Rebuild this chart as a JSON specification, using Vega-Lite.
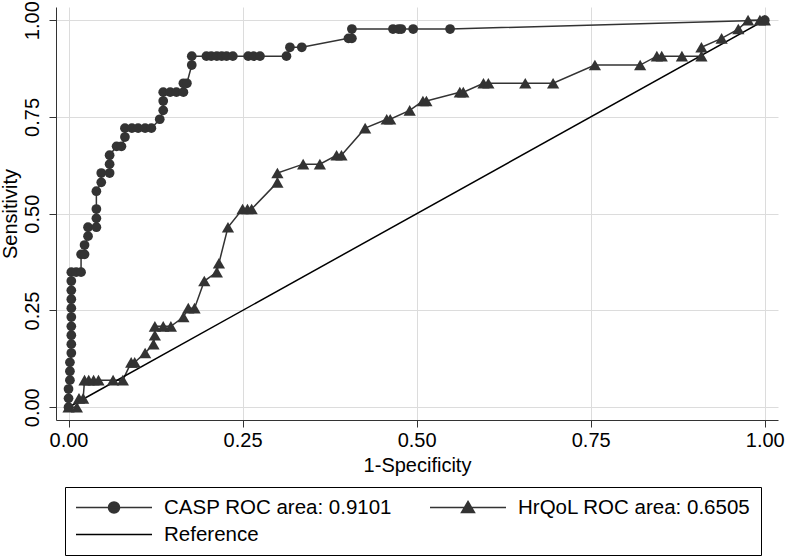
{
  "$schema": "https://vega.github.io/schema/vega-lite/v6.json",
  "width": 722,
  "height": 413,
  "autosize": {"type": "none"},
  "padding": {"left": 56, "top": 7, "right": 7, "bottom": 137},
  "background": "white",
  "config": {"view": {"stroke": null}, "font": "Liberation Sans"},
  "datasets": {
    "roc": [
      {"series": "CASP ROC area: 0.9101", "i": 0, "fpr": 0, "tpr": 0},
      {"series": "CASP ROC area: 0.9101", "i": 1, "fpr": 0, "tpr": 0.023},
      {"series": "CASP ROC area: 0.9101", "i": 2, "fpr": 0, "tpr": 0.047},
      {"series": "CASP ROC area: 0.9101", "i": 3, "fpr": 0.002, "tpr": 0.07},
      {"series": "CASP ROC area: 0.9101", "i": 4, "fpr": 0.002, "tpr": 0.093},
      {"series": "CASP ROC area: 0.9101", "i": 5, "fpr": 0.002, "tpr": 0.116},
      {"series": "CASP ROC area: 0.9101", "i": 6, "fpr": 0.004, "tpr": 0.14},
      {"series": "CASP ROC area: 0.9101", "i": 7, "fpr": 0.004, "tpr": 0.163},
      {"series": "CASP ROC area: 0.9101", "i": 8, "fpr": 0.004, "tpr": 0.186},
      {"series": "CASP ROC area: 0.9101", "i": 9, "fpr": 0.004, "tpr": 0.209},
      {"series": "CASP ROC area: 0.9101", "i": 10, "fpr": 0.004, "tpr": 0.233},
      {"series": "CASP ROC area: 0.9101", "i": 11, "fpr": 0.004, "tpr": 0.256},
      {"series": "CASP ROC area: 0.9101", "i": 12, "fpr": 0.004, "tpr": 0.279},
      {"series": "CASP ROC area: 0.9101", "i": 13, "fpr": 0.004, "tpr": 0.302},
      {"series": "CASP ROC area: 0.9101", "i": 14, "fpr": 0.004, "tpr": 0.326},
      {"series": "CASP ROC area: 0.9101", "i": 15, "fpr": 0.004, "tpr": 0.349},
      {"series": "CASP ROC area: 0.9101", "i": 16, "fpr": 0.011, "tpr": 0.349},
      {"series": "CASP ROC area: 0.9101", "i": 17, "fpr": 0.018, "tpr": 0.349},
      {"series": "CASP ROC area: 0.9101", "i": 18, "fpr": 0.018, "tpr": 0.395},
      {"series": "CASP ROC area: 0.9101", "i": 19, "fpr": 0.023, "tpr": 0.395},
      {"series": "CASP ROC area: 0.9101", "i": 20, "fpr": 0.023, "tpr": 0.419},
      {"series": "CASP ROC area: 0.9101", "i": 21, "fpr": 0.028, "tpr": 0.442},
      {"series": "CASP ROC area: 0.9101", "i": 22, "fpr": 0.028, "tpr": 0.465},
      {"series": "CASP ROC area: 0.9101", "i": 23, "fpr": 0.04, "tpr": 0.465},
      {"series": "CASP ROC area: 0.9101", "i": 24, "fpr": 0.04, "tpr": 0.488},
      {"series": "CASP ROC area: 0.9101", "i": 25, "fpr": 0.04, "tpr": 0.512},
      {"series": "CASP ROC area: 0.9101", "i": 26, "fpr": 0.04, "tpr": 0.558},
      {"series": "CASP ROC area: 0.9101", "i": 27, "fpr": 0.047, "tpr": 0.581},
      {"series": "CASP ROC area: 0.9101", "i": 28, "fpr": 0.047, "tpr": 0.605},
      {"series": "CASP ROC area: 0.9101", "i": 29, "fpr": 0.059, "tpr": 0.605},
      {"series": "CASP ROC area: 0.9101", "i": 30, "fpr": 0.059, "tpr": 0.628},
      {"series": "CASP ROC area: 0.9101", "i": 31, "fpr": 0.059, "tpr": 0.651},
      {"series": "CASP ROC area: 0.9101", "i": 32, "fpr": 0.069, "tpr": 0.674},
      {"series": "CASP ROC area: 0.9101", "i": 33, "fpr": 0.076, "tpr": 0.674},
      {"series": "CASP ROC area: 0.9101", "i": 34, "fpr": 0.081, "tpr": 0.698},
      {"series": "CASP ROC area: 0.9101", "i": 35, "fpr": 0.081, "tpr": 0.721},
      {"series": "CASP ROC area: 0.9101", "i": 36, "fpr": 0.091, "tpr": 0.721},
      {"series": "CASP ROC area: 0.9101", "i": 37, "fpr": 0.1, "tpr": 0.721},
      {"series": "CASP ROC area: 0.9101", "i": 38, "fpr": 0.11, "tpr": 0.721},
      {"series": "CASP ROC area: 0.9101", "i": 39, "fpr": 0.119, "tpr": 0.721},
      {"series": "CASP ROC area: 0.9101", "i": 40, "fpr": 0.131, "tpr": 0.744},
      {"series": "CASP ROC area: 0.9101", "i": 41, "fpr": 0.136, "tpr": 0.767},
      {"series": "CASP ROC area: 0.9101", "i": 42, "fpr": 0.136, "tpr": 0.791},
      {"series": "CASP ROC area: 0.9101", "i": 43, "fpr": 0.136, "tpr": 0.814},
      {"series": "CASP ROC area: 0.9101", "i": 44, "fpr": 0.146, "tpr": 0.814},
      {"series": "CASP ROC area: 0.9101", "i": 45, "fpr": 0.155, "tpr": 0.814},
      {"series": "CASP ROC area: 0.9101", "i": 46, "fpr": 0.165, "tpr": 0.814},
      {"series": "CASP ROC area: 0.9101", "i": 47, "fpr": 0.165, "tpr": 0.837},
      {"series": "CASP ROC area: 0.9101", "i": 48, "fpr": 0.17, "tpr": 0.837},
      {"series": "CASP ROC area: 0.9101", "i": 49, "fpr": 0.177, "tpr": 0.884},
      {"series": "CASP ROC area: 0.9101", "i": 50, "fpr": 0.177, "tpr": 0.907},
      {"series": "CASP ROC area: 0.9101", "i": 51, "fpr": 0.198, "tpr": 0.907},
      {"series": "CASP ROC area: 0.9101", "i": 52, "fpr": 0.205, "tpr": 0.907},
      {"series": "CASP ROC area: 0.9101", "i": 53, "fpr": 0.213, "tpr": 0.907},
      {"series": "CASP ROC area: 0.9101", "i": 54, "fpr": 0.22, "tpr": 0.907},
      {"series": "CASP ROC area: 0.9101", "i": 55, "fpr": 0.227, "tpr": 0.907},
      {"series": "CASP ROC area: 0.9101", "i": 56, "fpr": 0.236, "tpr": 0.907},
      {"series": "CASP ROC area: 0.9101", "i": 57, "fpr": 0.258, "tpr": 0.907},
      {"series": "CASP ROC area: 0.9101", "i": 58, "fpr": 0.266, "tpr": 0.907},
      {"series": "CASP ROC area: 0.9101", "i": 59, "fpr": 0.275, "tpr": 0.907},
      {"series": "CASP ROC area: 0.9101", "i": 60, "fpr": 0.313, "tpr": 0.907},
      {"series": "CASP ROC area: 0.9101", "i": 61, "fpr": 0.318, "tpr": 0.93},
      {"series": "CASP ROC area: 0.9101", "i": 62, "fpr": 0.335, "tpr": 0.93},
      {"series": "CASP ROC area: 0.9101", "i": 63, "fpr": 0.402, "tpr": 0.953},
      {"series": "CASP ROC area: 0.9101", "i": 64, "fpr": 0.407, "tpr": 0.953},
      {"series": "CASP ROC area: 0.9101", "i": 65, "fpr": 0.407, "tpr": 0.977},
      {"series": "CASP ROC area: 0.9101", "i": 66, "fpr": 0.466, "tpr": 0.977},
      {"series": "CASP ROC area: 0.9101", "i": 67, "fpr": 0.474, "tpr": 0.977},
      {"series": "CASP ROC area: 0.9101", "i": 68, "fpr": 0.478, "tpr": 0.977},
      {"series": "CASP ROC area: 0.9101", "i": 69, "fpr": 0.495, "tpr": 0.977},
      {"series": "CASP ROC area: 0.9101", "i": 70, "fpr": 0.548, "tpr": 0.977},
      {"series": "CASP ROC area: 0.9101", "i": 71, "fpr": 1, "tpr": 1},
      {"series": "HrQoL ROC area: 0.6505", "i": 0, "fpr": 0, "tpr": 0},
      {"series": "HrQoL ROC area: 0.6505", "i": 1, "fpr": 0.012, "tpr": 0},
      {"series": "HrQoL ROC area: 0.6505", "i": 2, "fpr": 0.015, "tpr": 0.023},
      {"series": "HrQoL ROC area: 0.6505", "i": 3, "fpr": 0.021, "tpr": 0.023},
      {"series": "HrQoL ROC area: 0.6505", "i": 4, "fpr": 0.023, "tpr": 0.07},
      {"series": "HrQoL ROC area: 0.6505", "i": 5, "fpr": 0.029, "tpr": 0.07},
      {"series": "HrQoL ROC area: 0.6505", "i": 6, "fpr": 0.036, "tpr": 0.07},
      {"series": "HrQoL ROC area: 0.6505", "i": 7, "fpr": 0.043, "tpr": 0.07},
      {"series": "HrQoL ROC area: 0.6505", "i": 8, "fpr": 0.064, "tpr": 0.07},
      {"series": "HrQoL ROC area: 0.6505", "i": 9, "fpr": 0.078, "tpr": 0.07},
      {"series": "HrQoL ROC area: 0.6505", "i": 10, "fpr": 0.09, "tpr": 0.116},
      {"series": "HrQoL ROC area: 0.6505", "i": 11, "fpr": 0.095, "tpr": 0.116},
      {"series": "HrQoL ROC area: 0.6505", "i": 12, "fpr": 0.11, "tpr": 0.14},
      {"series": "HrQoL ROC area: 0.6505", "i": 13, "fpr": 0.122, "tpr": 0.163},
      {"series": "HrQoL ROC area: 0.6505", "i": 14, "fpr": 0.124, "tpr": 0.186},
      {"series": "HrQoL ROC area: 0.6505", "i": 15, "fpr": 0.124, "tpr": 0.209},
      {"series": "HrQoL ROC area: 0.6505", "i": 16, "fpr": 0.136, "tpr": 0.209},
      {"series": "HrQoL ROC area: 0.6505", "i": 17, "fpr": 0.147, "tpr": 0.209},
      {"series": "HrQoL ROC area: 0.6505", "i": 18, "fpr": 0.165, "tpr": 0.233},
      {"series": "HrQoL ROC area: 0.6505", "i": 19, "fpr": 0.172, "tpr": 0.256},
      {"series": "HrQoL ROC area: 0.6505", "i": 20, "fpr": 0.181, "tpr": 0.256},
      {"series": "HrQoL ROC area: 0.6505", "i": 21, "fpr": 0.195, "tpr": 0.326},
      {"series": "HrQoL ROC area: 0.6505", "i": 22, "fpr": 0.213, "tpr": 0.349},
      {"series": "HrQoL ROC area: 0.6505", "i": 23, "fpr": 0.216, "tpr": 0.372},
      {"series": "HrQoL ROC area: 0.6505", "i": 24, "fpr": 0.229, "tpr": 0.465},
      {"series": "HrQoL ROC area: 0.6505", "i": 25, "fpr": 0.25, "tpr": 0.512},
      {"series": "HrQoL ROC area: 0.6505", "i": 26, "fpr": 0.257, "tpr": 0.512},
      {"series": "HrQoL ROC area: 0.6505", "i": 27, "fpr": 0.263, "tpr": 0.512},
      {"series": "HrQoL ROC area: 0.6505", "i": 28, "fpr": 0.3, "tpr": 0.581},
      {"series": "HrQoL ROC area: 0.6505", "i": 29, "fpr": 0.3, "tpr": 0.605},
      {"series": "HrQoL ROC area: 0.6505", "i": 30, "fpr": 0.337, "tpr": 0.628},
      {"series": "HrQoL ROC area: 0.6505", "i": 31, "fpr": 0.361, "tpr": 0.628},
      {"series": "HrQoL ROC area: 0.6505", "i": 32, "fpr": 0.385, "tpr": 0.651},
      {"series": "HrQoL ROC area: 0.6505", "i": 33, "fpr": 0.392, "tpr": 0.651},
      {"series": "HrQoL ROC area: 0.6505", "i": 34, "fpr": 0.426, "tpr": 0.721},
      {"series": "HrQoL ROC area: 0.6505", "i": 35, "fpr": 0.457, "tpr": 0.744},
      {"series": "HrQoL ROC area: 0.6505", "i": 36, "fpr": 0.462, "tpr": 0.744},
      {"series": "HrQoL ROC area: 0.6505", "i": 37, "fpr": 0.49, "tpr": 0.767},
      {"series": "HrQoL ROC area: 0.6505", "i": 38, "fpr": 0.509, "tpr": 0.791},
      {"series": "HrQoL ROC area: 0.6505", "i": 39, "fpr": 0.514, "tpr": 0.791},
      {"series": "HrQoL ROC area: 0.6505", "i": 40, "fpr": 0.562, "tpr": 0.814},
      {"series": "HrQoL ROC area: 0.6505", "i": 41, "fpr": 0.567, "tpr": 0.814},
      {"series": "HrQoL ROC area: 0.6505", "i": 42, "fpr": 0.596, "tpr": 0.837},
      {"series": "HrQoL ROC area: 0.6505", "i": 43, "fpr": 0.603, "tpr": 0.837},
      {"series": "HrQoL ROC area: 0.6505", "i": 44, "fpr": 0.656, "tpr": 0.837},
      {"series": "HrQoL ROC area: 0.6505", "i": 45, "fpr": 0.696, "tpr": 0.837},
      {"series": "HrQoL ROC area: 0.6505", "i": 46, "fpr": 0.756, "tpr": 0.884},
      {"series": "HrQoL ROC area: 0.6505", "i": 47, "fpr": 0.821, "tpr": 0.884},
      {"series": "HrQoL ROC area: 0.6505", "i": 48, "fpr": 0.845, "tpr": 0.907},
      {"series": "HrQoL ROC area: 0.6505", "i": 49, "fpr": 0.852, "tpr": 0.907},
      {"series": "HrQoL ROC area: 0.6505", "i": 50, "fpr": 0.881, "tpr": 0.907},
      {"series": "HrQoL ROC area: 0.6505", "i": 51, "fpr": 0.909, "tpr": 0.907},
      {"series": "HrQoL ROC area: 0.6505", "i": 52, "fpr": 0.909, "tpr": 0.93},
      {"series": "HrQoL ROC area: 0.6505", "i": 53, "fpr": 0.938, "tpr": 0.953},
      {"series": "HrQoL ROC area: 0.6505", "i": 54, "fpr": 0.962, "tpr": 0.977},
      {"series": "HrQoL ROC area: 0.6505", "i": 55, "fpr": 0.976, "tpr": 1},
      {"series": "HrQoL ROC area: 0.6505", "i": 56, "fpr": 0.993, "tpr": 1},
      {"series": "HrQoL ROC area: 0.6505", "i": 57, "fpr": 1, "tpr": 1},
      {"series": "Reference", "i": 0, "fpr": 0, "tpr": 0},
      {"series": "Reference", "i": 1, "fpr": 1, "tpr": 1}
    ]
  },
  "data": {"name": "roc"},
  "layer": [
    {
      "mark": {"type": "line", "strokeWidth": 1.5},
      "encoding": {
        "x": {
          "field": "fpr", "type": "quantitative",
          "scale": {"domain": [-0.018, 1.019], "nice": false, "zero": false},
          "axis": {
            "values": [0, 0.25, 0.5, 0.75, 1], "format": ".2f", "title": "1-Specificity",
            "grid": true, "gridColor": "#dcdcdc", "gridWidth": 1,
            "domainColor": "#333333", "tickColor": "#333333", "tickSize": 7,
            "labelFontSize": 20, "labelColor": "#000000", "labelPadding": 3, "labelBaseline": "top",
            "labelFlush": false, "labelOverlap": false,
            "titleFontSize": 20, "titleFontWeight": "normal", "titleColor": "#000000",
            "titleX": 361, "titleY": 51, "titleBaseline": "alphabetic", "titleAlign": "center"
          }
        },
        "y": {
          "field": "tpr", "type": "quantitative",
          "scale": {"domain": [-0.033, 1.034], "nice": false, "zero": false},
          "axis": {
            "values": [0, 0.25, 0.5, 0.75, 1], "format": ".2f", "title": "Sensitivity",
            "grid": true, "gridColor": "#dcdcdc", "gridWidth": 1,
            "domainColor": "#333333", "tickColor": "#333333", "tickSize": 7,
            "labelFontSize": 20, "labelColor": "#000000", "labelPadding": 11,
            "labelAngle": -90, "labelAlign": "center", "labelBaseline": "alphabetic",
            "labelFlush": false, "labelOverlap": false,
            "titleFontSize": 20, "titleFontWeight": "normal", "titleColor": "#000000",
            "titleAngle": -90, "titleX": -40, "titleY": 206.5, "titleBaseline": "alphabetic", "titleAlign": "center"
          }
        },
        "color": {
          "field": "series", "type": "nominal",
          "scale": {
            "domain": ["CASP ROC area: 0.9101", "HrQoL ROC area: 0.6505", "Reference"],
            "range": ["#333333", "#333333", "#000000"]
          },
          "legend": {
            "title": null, "orient": "none", "legendX": 9, "legendY": 480,
            "direction": "horizontal",
            "columns": 2, "clipHeight": 21, "rowPadding": 6, "columnPadding": 37,
            "padding": 10, "symbolSize": 5776, "symbolStrokeWidth": 1.5, "labelOffset": 11,
            "labelFontSize": 20.5, "labelColor": "#000000", "labelLimit": 400,
            "strokeColor": "#000000", "fillColor": "#ffffff", "cornerRadius": 0,
            "encode": {
              "symbols": {
                "update": {
                  "shape": {"signal": "datum.value === 'CASP ROC area: 0.9101' ? 'M-1,0H1M0.145,0A0.145,0.145,0,1,1,-0.145,0A0.145,0.145,0,1,1,0.145,0Z' : (datum.value === 'HrQoL ROC area: 0.6505' ? 'M-1,0H1M0,-0.158L0.171,0.132L-0.171,0.132Z' : 'M-1,0H1')"},
                  "fill": {"signal": "datum.value === 'Reference' ? 'transparent' : '#333333'"},
                  "stroke": {"signal": "datum.value === 'Reference' ? '#000000' : '#333333'"},
                  "strokeWidth": {"value": 1.5},
                  "size": {"value": 5776},
                  "opacity": {"value": 1}
                }
              }
            }
          }
        },
        "order": {"field": "i", "type": "quantitative"}
      }
    },
    {
      "transform": [{"filter": "datum.series !== 'Reference'"}],
      "mark": {"type": "point", "filled": true, "opacity": 1, "color": "#333333"},
      "encoding": {
        "x": {"field": "fpr", "type": "quantitative"},
        "y": {"field": "tpr", "type": "quantitative"},
        "shape": {
          "field": "series", "type": "nominal",
          "scale": {"domain": ["CASP ROC area: 0.9101", "HrQoL ROC area: 0.6505"], "range": ["circle", "triangle-up"]},
          "legend": null
        },
        "size": {
          "field": "series", "type": "ordinal",
          "scale": {"domain": ["CASP ROC area: 0.9101", "HrQoL ROC area: 0.6505"], "range": [95, 150]},
          "legend": null
        }
      }
    }
  ]
}
